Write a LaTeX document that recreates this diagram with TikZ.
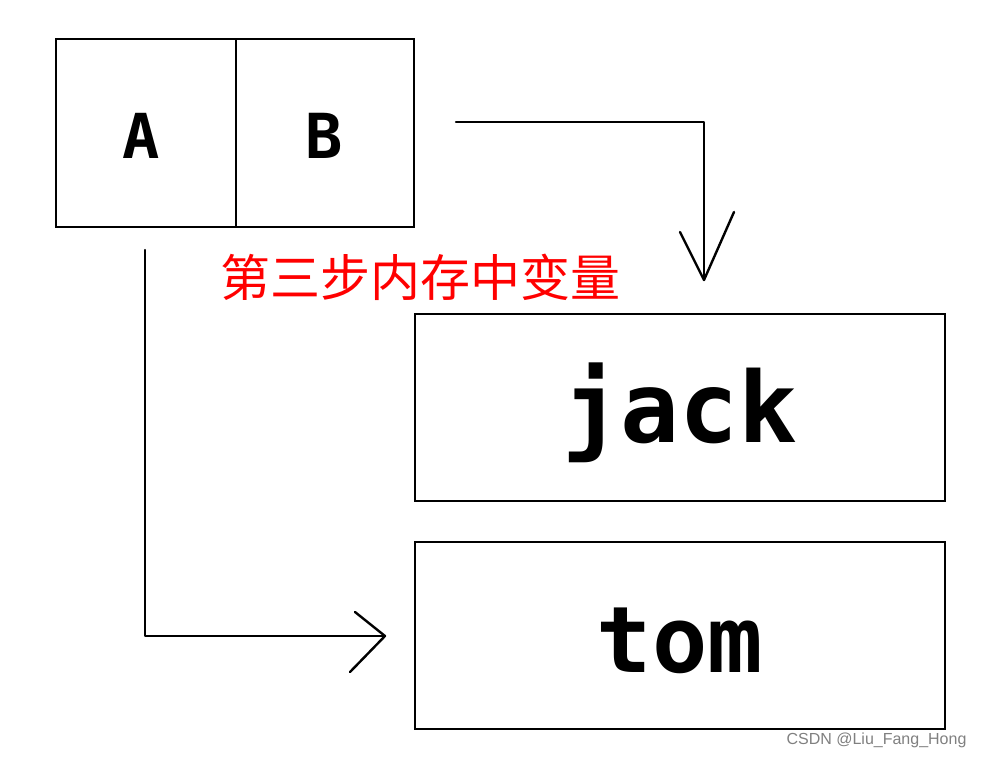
\documentclass[tikz,border=0pt]{standalone}
\usepackage{fontspec}
\setmonofont{DejaVu Sans Mono}
\newfontfamily\cjk{Noto Sans CJK SC}
\newfontfamily\wm{Liberation Sans}
\begin{document}
\begin{tikzpicture}[x=1pt,y=-1pt,
  box/.style={draw,line width=2pt,minimum width=#1,minimum height=188pt,inner sep=0,anchor=north west},
  box/.default=180pt,
  ln/.style={line width=2.4pt,line cap=round,line join=round}]
\useasboundingbox[fill=white] (0,0) rectangle (986,758);
\node[box=180pt] (A) at (55,38) {};
\node[box=178pt] (B) at (235,38) {};
\node[font=\ttfamily\bfseries\fontsize{62}{62}\selectfont] (At) at ([xshift=-5pt,yshift=-3pt]A.center) {A};
\node[font=\ttfamily\bfseries\fontsize{62}{62}\selectfont] (Bt) at ([xshift=-1pt,yshift=-3pt]B.center) {B};
\node[box=530pt,minimum height=187pt] (jack) at (414,313) {};
\node[font=\ttfamily\bfseries\fontsize{98}{98}\selectfont] (jt) at ([yshift=-5pt]jack.center) {jack};
\node[box=530pt,minimum height=187pt] (tom) at (414,541) {};
\node[font=\ttfamily\bfseries\fontsize{92}{92}\selectfont] (tt) at ([yshift=-5pt]tom.center) {tom};
\node[text=red,font=\cjk\fontsize{50}{50}\selectfont] (lab) at (420,277) {第三步内存中变量};
\coordinate (b0) at (456,122);
\coordinate (b1) at (704,122);
\coordinate (b2) at (704,280);
\draw[ln] (b0) -- (b1) -- (b2);
\draw[ln] (680,232) -- (b2) -- (734,212);
\coordinate (a0) at (145,250);
\coordinate (a1) at (145,636);
\coordinate (a2) at (385,636);
\draw[ln] (a0) -- (a1) -- (a2);
\draw[ln] (355,612) -- (a2) -- (350,672);
\node[text=gray,font=\wm\fontsize{16}{16}\selectfont,anchor=east] (wmk) at (970,740) {CSDN @Liu\_Fang\_Hong};
\end{tikzpicture}
\end{document}
